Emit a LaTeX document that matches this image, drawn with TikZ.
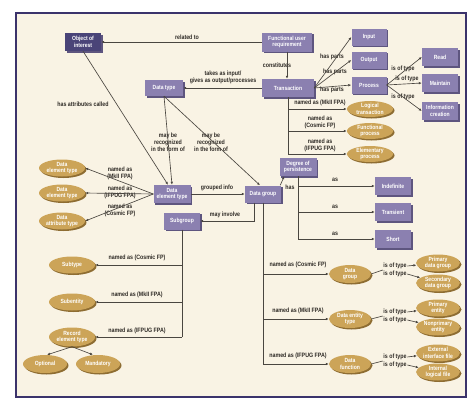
\documentclass[tikz,border=0pt]{standalone}
\usepackage{fontspec}
\setmainfont{Liberation Sans}[FakeStretch=0.84]
\usetikzlibrary{shapes.geometric,arrows.meta,shadows,calc}
\definecolor{boxc}{HTML}{8B80B0}
\definecolor{boxs}{HTML}{5E557F}
\definecolor{darkc}{HTML}{4A4478}
\definecolor{ellc}{HTML}{CCA458}
\definecolor{ells}{HTML}{8E6D32}
\definecolor{bgc}{HTML}{F9F3E4}
\definecolor{framec}{HTML}{3B336B}
\definecolor{linec}{HTML}{4A4640}
\definecolor{lblc}{HTML}{2E2A25}
\newcommand\myNodeFont{\fontsize{6.0}{6.6}\selectfont\bfseries}
\newcommand\myLblFont{\fontsize{6.3}{6.8}\selectfont\bfseries}
\tikzset{
  box/.style={rectangle, fill=boxc, text=white, font=\myNodeFont, align=center,
    minimum width=36, minimum height=17, inner sep=0.5pt,
    drop shadow={shadow xshift=1.8pt, shadow yshift=-1.8pt, fill=boxs, opacity=1}},
  dbox/.style={box, fill=darkc},
  ell/.style={ellipse, fill=ellc, text=white, font=\myNodeFont, align=center,
    minimum width=46, minimum height=17, inner xsep=-4pt, inner ysep=-2pt,
    drop shadow={shadow xshift=1.5pt, shadow yshift=-1.5pt, fill=ells, opacity=1}},
  lbl/.style={font=\myLblFont, text=lblc, align=center, inner sep=0.5pt},
  plain/.style={draw=linec, line width=0.65pt},
  conn/.style={plain, -{Latex[length=3pt,width=2.6pt]}}
}
\begin{document}
\begin{tikzpicture}[x=1pt,y=-1pt]
\useasboundingbox (0,0) rectangle (474,402);
\fill[white] (0,0) rectangle (474,402);
\draw[line width=1.4pt, draw=framec, fill=bgc] (16,13) rectangle (466,397);

% boxes
\node[dbox, minimum width=36, minimum height=18] (oi) at (83,42) {Object of\\interest};
\node[box, minimum width=50, minimum height=19] (fur) at (287,42) {Functional user\\requirement};
\node[box, minimum width=52, minimum height=18] (tr) at (288,88) {Transaction};
\node[box, minimum width=35] (inp) at (369,37) {Input};
\node[box, minimum width=35] (outp) at (369,60) {Output};
\node[box, minimum width=35] (proc) at (369,85) {Process};
\node[box, minimum height=18] (rd) at (440,57) {Read};
\node[box, minimum height=18] (mt) at (440,83) {Maintain};
\node[box, minimum height=18] (ic) at (440,111) {Information\\creation};
\node[box, minimum width=38, minimum height=16] (dt) at (164,88) {Data type};
\node[box, minimum width=37, minimum height=18] (det) at (172,194) {Data\\element type};
\node[box] (dg) at (263,194) {Data group};
\node[box] (sg) at (182,221) {Subgroup};
\node[box, minimum width=37, minimum height=18] (dp) at (298,167) {Degree of\\persistence};
\node[box, minimum height=18] (ind) at (393,186) {Indefinite};
\node[box, minimum height=18] (trn) at (393,212) {Transient};
\node[box, minimum height=18] (sht) at (393,239) {Short};

% ellipses
\node[ell, minimum height=16] (lt) at (370,109) {Logical\\transaction};
\node[ell, minimum height=16] (fp) at (370,131) {Functional\\process};
\node[ell, minimum height=16] (ep) at (370,154) {Elementary\\process};
\node[ell] (e1) at (62,168) {Data\\element type};
\node[ell] (e2) at (62,193) {Data\\element type};
\node[ell] (e3) at (62,221) {Data\\attribute type};
\node[ell] (st) at (72,265) {Subtype};
\node[ell] (se) at (72,302) {Subentity};
\node[ell, minimum height=19] (ret) at (72,337) {Record\\element type};
\node[ell, minimum width=44, minimum height=18] (opt) at (45,364) {Optional};
\node[ell, minimum width=44, minimum height=18] (man) at (98,364) {Mandatory};
\node[ell, minimum width=42, minimum height=18] (cdg) at (350,274) {Data\\group};
\node[ell, minimum width=42, minimum height=18] (cde) at (350,319) {Data entity\\type};
\node[ell, minimum width=42, minimum height=18] (cdf) at (350,364) {Data\\function};
\node[ell, minimum width=44] (pdg) at (438,263) {Primary\\data group};
\node[ell, minimum width=44] (sdg) at (438,283) {Secondary\\data group};
\node[ell, minimum width=44] (pe) at (438,308) {Primary\\entity};
\node[ell, minimum width=44] (npe) at (438,327) {Nonprimary\\entity};
\node[ell, minimum width=44] (eif) at (438,353) {External\\interface file};
\node[ell, minimum width=44] (ilf) at (438,372) {Internal\\logical file};

% labels
\node[lbl] (lrel) at (187,37) {related to};
\node[lbl] (lcon) at (277,65) {constitutes};
\node[lbl] (ltak) at (223,77) {takes as input/\\gives as output/processes};
\node[lbl] (lhp1) at (332,57) {has parts};
\node[lbl] (lhp2) at (335,72) {has parts};
\node[lbl] (lhp3) at (332,90) {has parts};
\node[lbl] (lit1) at (403,69) {is of type};
\node[lbl] (lit2) at (407,79) {is of type};
\node[lbl] (lit3) at (403,97) {is of type};
\node[lbl] (ln1) at (320,103) {named as (MkII FPA)};
\node[lbl] (ln2) at (320,122) {named as\\(Cosmic FP)};
\node[lbl] (ln3) at (320,145) {named as\\(IFPUG FPA)};
\node[lbl] (lhac) at (83,104) {has attributes called};
\node[lbl] (lmb1) at (168,142) {may be\\recognized\\in the form of};
\node[lbl] (lmb2) at (211,142) {may be\\recognized\\in the form of};
\node[lbl] (ln4) at (120,173) {named as\\(MkII FPA)};
\node[lbl] (ln5) at (120,192) {named as\\(IFPUG FPA)};
\node[lbl] (ln6) at (120,210) {named as\\(Cosmic FP)};
\node[lbl] (lgi) at (217,188) {grouped info};
\node[lbl] (lmi) at (225,215) {may involve};
\node[lbl] (lhas) at (290,187) {has};
\node[lbl] (las1) at (335,180) {as};
\node[lbl] (las2) at (335,207) {as};
\node[lbl] (las3) at (335,234) {as};
\node[lbl] (ln7) at (298,265) {named as (Cosmic FP)};
\node[lbl] (ln8) at (298,311) {named as (MkII FPA)};
\node[lbl] (ln9) at (298,356) {named as (IFPUG FPA)};
\node[lbl] (ln10) at (137,258) {named as (Cosmic FP)};
\node[lbl] (ln11) at (137,295) {named as (MkII FPA)};
\node[lbl] (ln12) at (137,331) {named as (IFPUG FPA)};
\node[lbl] (li1) at (395,266) {is of type};
\node[lbl] (li2) at (395,274) {is of type};
\node[lbl] (li3) at (395,312) {is of type};
\node[lbl] (li4) at (395,320) {is of type};
\node[lbl] (li5) at (395,357) {is of type};
\node[lbl] (li6) at (395,365) {is of type};

% connectors
\draw[conn] (fur.west) -- (oi.east);
\draw[conn] (fur.south) -- (fur.south |- tr.north);
\draw[conn] (tr.west) -- (dt.east);
\draw[conn] (tr.east) -- (inp.west);
\draw[conn] (tr.east) -- (outp.west);
\draw[conn] (tr.east) -- (proc.west);
\draw[conn] (proc.east) -- (rd.west);
\draw[conn] (proc.east) -- (mt.west);
\draw[conn] (proc.east) -- (ic.west);
\draw[plain] (tr.south) -- (tr.south |- ep.west);
\draw[conn] (tr.south |- lt.west) -- (lt.west);
\draw[conn] (tr.south |- fp.west) -- (fp.west);
\draw[conn] (tr.south |- ep.west) -- (ep.west);
\draw[conn] (oi.south) -- ([xshift=-4pt]det.north);
\draw[conn] (dt.south) -- (det.north);
\draw[conn] (dt.south) -- ([xshift=-3pt]dg.north);
\draw[conn] (det.west) -- (e1.east);
\draw[conn] (det.west) -- (e2.east);
\draw[conn] (det.west) -- (e3.east);
\draw[conn] (det.east) -- (dg.west);
\draw[conn] ([xshift=-9pt]dg.south) |- (sg.east);
\draw[conn] ([xshift=-1pt]dg.north east) -- ([xshift=5pt]dp.south west);
\draw[plain] (dp.south) -- (dp.south |- sht.west);
\draw[conn] (dp.south |- ind.west) -- (ind.west);
\draw[conn] (dp.south |- trn.west) -- (trn.west);
\draw[conn] (dp.south |- sht.west) -- (sht.west);
\draw[plain] (dg.south) -- (dg.south |- cdf.west);
\draw[conn] (dg.south |- cdg.west) -- (cdg.west);
\draw[conn] (dg.south |- cde.west) -- (cde.west);
\draw[conn] (dg.south |- cdf.west) -- (cdf.west);
\draw[plain] (sg.south) -- (sg.south |- ret.east);
\draw[conn] (sg.south |- st.east) -- (st.east);
\draw[conn] (sg.south |- se.east) -- (se.east);
\draw[conn] (sg.south |- ret.east) -- (ret.east);
\draw[conn] (ret.south) -- ([xshift=2pt]opt.north);
\draw[conn] (ret.south) -- ([xshift=-5pt]man.north);
\draw[plain] (cdg.east) -- ($(li1.west)!0.5!(li2.west)$);
\draw[plain] (cde.east) -- ($(li3.west)!0.5!(li4.west)$);
\draw[plain] (cdf.east) -- ($(li5.west)!0.5!(li6.west)$);
\draw[conn] (li1.east) -- (pdg);
\draw[conn] (li2.east) -- (sdg);
\draw[conn] (li3.east) -- (pe);
\draw[conn] (li4.east) -- (npe);
\draw[conn] (li5.east) -- (eif);
\draw[conn] (li6.east) -- (ilf);
\end{tikzpicture}
\end{document}
